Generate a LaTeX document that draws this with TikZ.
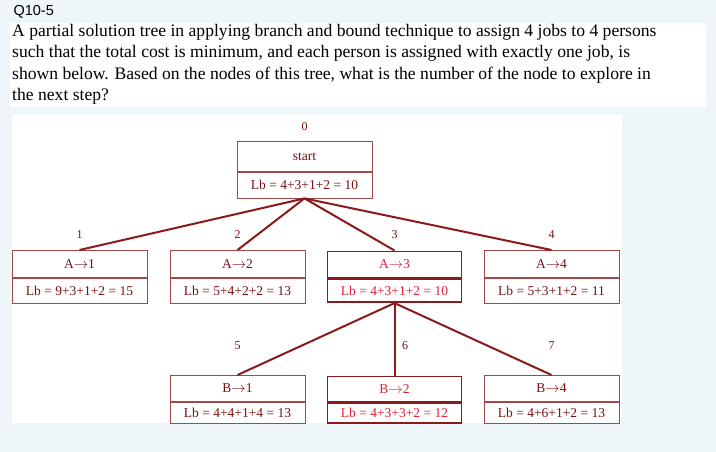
\documentclass[tikz,border=0pt]{standalone}
\usepackage{fontspec}
\setmainfont{Liberation Serif}
\newfontfamily\qsans{Liberation Sans}
\definecolor{bg}{HTML}{EEF6FA}
\definecolor{dred}{HTML}{8B1A1A}
\definecolor{tred}{HTML}{7A1010}
\definecolor{hred}{HTML}{E0203A}
\begin{document}
\begin{tikzpicture}[x=1pt,y=-1pt,
  cell/.style={draw=dred!80, line width=0.7pt, minimum width=135pt, inner sep=0pt, text=tred, font=\fontsize{13.5}{13.5}\selectfont, anchor=north},
  hcell/.style={cell, line width=1.8pt, draw=dred, text=hred, minimum width=134pt},
  num/.style={font=\fontsize{12}{12}\selectfont, text=tred},
  edge/.style={draw=dred, line width=2pt}]
\fill[bg] (0,0) rectangle (716,452);
\useasboundingbox (0,0) rectangle (716,452);
\fill[white] (10,23) rectangle (706,107);
\fill[white] (12,115) rectangle (622,423);
\node[anchor=west, font=\qsans\fontsize{14.5}{14.5}\selectfont] (q) at (10,12) {Q10-5};
\node[anchor=north west, align=left, inner sep=0pt, font=\fontsize{17.6}{21.3}\selectfont] (t) at (12,24)
 {A partial solution tree in applying branch and bound technique to assign 4 jobs to 4 persons\\
  such that the total cost is minimum, and each person is assigned with exactly one job, is\\
  shown below. Based on the nodes of this tree, what is the number of the node to explore in\\
  the next step?};
% root
\node[cell, minimum height=30pt] (r0) at (304.5,141) {start};
\node[cell, minimum height=26pt] (b0) at (r0.south) {Lb = 4+3+1+2 = 10};
\node[num] (n0) at (304.5,127) {0};
% level 1
\foreach \i/\x/\t/\l in {1/79.5/A$\to$1/9+3+1+2 = 15, 2/237.5/A$\to$2/5+4+2+2 = 13, 4/551.5/A$\to$4/5+3+1+2 = 11}{
  \node[cell, minimum height=27pt] (r\i) at (\x,250) {\t};
  \node[cell, minimum height=25pt] (b\i) at (r\i.south) {Lb = \l};
  \node[num] (n\i) at (\x,235) {\i};
}
\node[hcell, minimum height=26pt] (r3) at (394.5,250.5) {A$\to$3};
\node[hcell, minimum height=23pt] (b3) at (r3.south) {Lb = 4+3+1+2 = 10};
\node[num] (n3) at (394.5,235) {3};
% level 2
\foreach \i/\x/\t/\l in {5/237.5/B$\to$1/4+4+1+4 = 13, 7/551.5/B$\to$4/4+6+1+2 = 13}{
  \node[cell, minimum height=26pt] (r\i) at (\x,375) {\t};
  \node[cell, minimum height=21pt] (b\i) at (r\i.south) {Lb = \l};
  \node[num] (n\i) at (\x,346) {\i};
}
\node[hcell, minimum height=25pt] (r6) at (394.5,375.5) {B$\to$2};
\node[hcell, minimum height=19.5pt] (b6) at (r6.south) {Lb = 4+3+3+2 = 12};
\node[num] (n6) at (405,346) {6};
% edges
\foreach \c in {1,2,3,4} \draw[edge] (b0.south) -- (r\c.north);
\foreach \c in {5,6,7} \draw[edge] (b3.south) -- (r\c.north);
\end{tikzpicture}
\end{document}
